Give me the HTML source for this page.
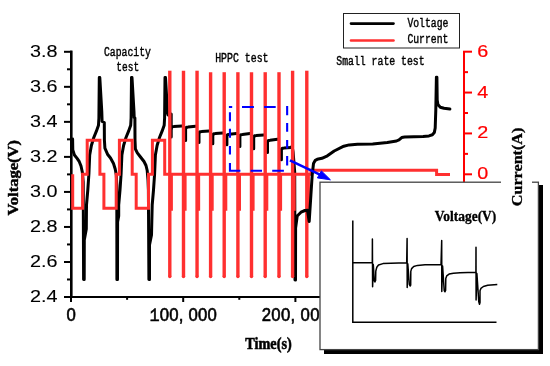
<!DOCTYPE html>
<html><head><meta charset="utf-8"><style>
html,body{margin:0;padding:0;background:#fff;}
body{width:550px;height:366px;overflow:hidden;}
svg{display:block;}
.tick{font-family:"Liberation Sans",Arial,sans-serif;font-size:16.5px;}
.ser{font-family:"Liberation Serif","Times New Roman",serif;font-weight:bold;}
.mono{font-family:"Liberation Mono","Noto Sans CJK SC",monospace;}
</style></head><body>
<svg width="550" height="366" viewBox="0 0 550 366">
<rect width="550" height="366" fill="#fff"/>
<!-- axes -->
<g stroke="#000" stroke-width="2" fill="none"><line x1="71.3" y1="50.6" x2="71.3" y2="298" stroke-width="2.6"/><line x1="64" y1="51.8" x2="72" y2="51.8"/><line x1="67" y1="69.3" x2="72" y2="69.3"/><line x1="64" y1="86.83" x2="72" y2="86.83"/><line x1="67" y1="104.33" x2="72" y2="104.33"/><line x1="64" y1="121.86" x2="72" y2="121.86"/><line x1="67" y1="139.36" x2="72" y2="139.36"/><line x1="64" y1="156.89" x2="72" y2="156.89"/><line x1="67" y1="174.39" x2="72" y2="174.39"/><line x1="64" y1="191.92" x2="72" y2="191.92"/><line x1="67" y1="209.42" x2="72" y2="209.42"/><line x1="64" y1="226.95" x2="72" y2="226.95"/><line x1="67" y1="244.45" x2="72" y2="244.45"/><line x1="64" y1="261.98" x2="72" y2="261.98"/><line x1="67" y1="279.48" x2="72" y2="279.48"/><line x1="64" y1="297.01" x2="72" y2="297.01"/><line x1="70" y1="297" x2="470" y2="297"/><line x1="71" y1="296" x2="71" y2="302"/><line x1="127.1" y1="296" x2="127.1" y2="299.8"/><line x1="183.2" y1="296" x2="183.2" y2="302"/><line x1="239.3" y1="296" x2="239.3" y2="299.8"/><line x1="295.4" y1="296" x2="295.4" y2="302"/><line x1="351.5" y1="296" x2="351.5" y2="299.8"/><line x1="407.6" y1="296" x2="407.6" y2="302"/><line x1="463.7" y1="296" x2="463.7" y2="299.8"/></g>
<g stroke="#ff0000" stroke-width="2" fill="none"><line x1="464" y1="51" x2="464" y2="300"/><line x1="463" y1="174.3" x2="472" y2="174.3"/><line x1="463" y1="153.87" x2="468" y2="153.87"/><line x1="463" y1="133.43" x2="472" y2="133.43"/><line x1="463" y1="113" x2="468" y2="113"/><line x1="463" y1="92.56" x2="472" y2="92.56"/><line x1="463" y1="72.13" x2="468" y2="72.13"/><line x1="463" y1="51.69" x2="472" y2="51.69"/></g>
<!-- tick labels left -->
<g class="tick" fill="#000" stroke="#000" stroke-width="0.1" text-anchor="end">
<text transform="translate(57.4,57.1) scale(1.2,1)">3.8</text>
<text transform="translate(57.4,92.1) scale(1.2,1)">3.6</text>
<text transform="translate(57.4,127.2) scale(1.2,1)">3.4</text>
<text transform="translate(57.4,162.2) scale(1.2,1)">3.2</text>
<text transform="translate(57.4,197.2) scale(1.2,1)">3.0</text>
<text transform="translate(57.4,232.3) scale(1.2,1)">2.8</text>
<text transform="translate(57.4,267.3) scale(1.2,1)">2.6</text>
<text transform="translate(57.4,302.3) scale(1.2,1)">2.4</text>
</g>
<g class="tick" fill="#000" stroke="#000" stroke-width="0.6" text-anchor="middle" style="font-size:18px">
<text transform="translate(71.2,320.5) scale(0.93,1)">0</text>
<text transform="translate(183.2,320.5) scale(0.93,1)" textLength="72.5" lengthAdjust="spacing"><tspan font-family="WenQuanYi Zen Hei">1</tspan>00, 000</text>
<text transform="translate(295.4,320.5) scale(0.93,1)" textLength="72.5" lengthAdjust="spacing">200, 000</text>
</g>
<g class="tick" fill="#ff0000" stroke="#ff0000" stroke-width="0.2" text-anchor="start" style="font-size:15.8px">
<text transform="translate(477.3,178.6) scale(1.25,1)">0</text>
<text transform="translate(477.3,137.8) scale(1.25,1)">2</text>
<text transform="translate(477.3,97.6) scale(1.25,1)">4</text>
<text transform="translate(477.3,56.8) scale(1.25,1)">6</text>
</g>
<!-- curves -->
<g fill="none" stroke="#000" stroke-width="3" stroke-linejoin="round" stroke-linecap="round">
<path d="M72.6,139 L72.8,150 L74.4,155 L77.1,158.4 L79.3,161.7 L81,166 L82.3,172 L83.2,182 L83.6,279.5 L84.2,279.5 L84.3,240 L86.3,229 L86.5,205 L87.8,190 L88.9,174 L89.7,155 L91.4,145.5 L93.8,137.5 L96.3,131.4 L98.5,125.2 L98.9,118 L99.3,77.6 L99.8,77.6 L101.8,112 L102.1,121.5 L104.3,122.5 L104.4,140 L104.9,148.2 L107.5,154.2 L110.5,158 L113.5,163.5 L115.2,169 L116.3,175 L116.8,185 L116.9,279.5 L117.5,279.5 L117.6,222 L118.7,216 L118.7,205 L120,190 L121.1,174 L121.9,155 L123.6,145.5 L126,137.5 L128.5,131.4 L130.7,125.2 L131.1,118 L131.5,77.6 L132,77.6 L134,112 L134.2,117.5 L134.9,118 L135,140 L135.4,149 L137.3,152.8 L140.5,157 L144,161.5 L146,165.5 L147.2,170.5 L148,180 L148.4,190 L148.9,279.5 L149.5,279.5 L149.5,245 L151.5,235 L152.2,205 L153.5,190 L154.6,174 L155.4,155 L157.1,145.5 L159.5,137.5 L162,131.4 L164.2,125.2 L164.6,118 L165,77.6 L165.5,77.6 L167.5,112 L167.5,113 L168.1,115 L170,116"/>
<path d="M171.2,137 L171.2,128.2 Q171.4,126.4 173.7,126.4 L182,126.1"/><path d="M171.2,114 L171.2,128.4"/><path d="M185.6,140.5 L185.6,128.8 Q185.8,127 188.1,127 L195.55,126.3"/><path d="M199,142.4 L199,133.4 Q199.2,131.6 201.5,131.6 L209.1,131"/><path d="M212.8,143.8 L212.8,135.4 Q213,133.6 215.3,133.6 L222.7,133"/><path d="M226.9,144.8 L226.9,136 Q227.1,134.2 229.4,134.2 L236.4,133.4"/><path d="M239.9,146.4 L239.9,136.2 Q240.1,134.4 242.4,134.4 L250,133.4"/><path d="M253.7,148.8 L253.7,137.4 Q253.9,135.6 256.2,135.6 L263.7,135"/><path d="M267.5,152.6 L267.5,142.1 Q267.7,140.3 270,140.3 L277.5,139.2"/><path d="M281.4,159.8 L281.4,149.8 Q281.6,148 283.9,148 L291.1,147.4"/><path d="M291.1,147.2 L292.4,148"/>
<path d="M292.4,148 L293.1,152 L294.7,172 L295,280 L295.5,280 L295.6,228 L297.2,216 L301,212.2 L305,210.5"/>
</g>
<g fill="none" stroke="#ff3030" stroke-width="3" stroke-linejoin="miter" stroke-linecap="butt">
<path d="M72.7,174.3 L72.7,208.3 L82.6,208.3 L82.6,174.3 L87.2,174.3 L87.2,140.2 L99.9,140.2 L99.9,174.3 L103.9,174.3 L103.9,208.3 L116.2,208.3 L116.2,174.3 L119.4,174.3 L119.4,140.2 L132.2,140.2 L132.2,174.3 L136.2,174.3 L136.2,208.3 L148.5,208.3 L148.5,174.3 L152.4,174.3 L152.4,140.2 L164.7,140.2 L164.7,174.3 L311,174.3 L311,170.2 L436.6,170.2 L436.6,174.4 L450,174.4"/>
</g>
<g fill="none" stroke="#ff3030" stroke-width="3.4" stroke-linecap="butt"><line x1="169.8" y1="70.7" x2="169.8" y2="276.6"/><circle cx="169.8" cy="276.6" r="1.7" fill="#ff3030" stroke="none"/><line x1="183.5" y1="70.7" x2="183.5" y2="276.6"/><circle cx="183.5" cy="276.6" r="1.7" fill="#ff3030" stroke="none"/><line x1="197.05" y1="70.7" x2="197.05" y2="276.6"/><circle cx="197.05" cy="276.6" r="1.7" fill="#ff3030" stroke="none"/><line x1="210.6" y1="72.2" x2="210.6" y2="276.6"/><circle cx="210.6" cy="276.6" r="1.7" fill="#ff3030" stroke="none"/><line x1="224.2" y1="72.2" x2="224.2" y2="276.6"/><circle cx="224.2" cy="276.6" r="1.7" fill="#ff3030" stroke="none"/><line x1="237.9" y1="72.2" x2="237.9" y2="276.6"/><circle cx="237.9" cy="276.6" r="1.7" fill="#ff3030" stroke="none"/><line x1="251.5" y1="72.2" x2="251.5" y2="276.6"/><circle cx="251.5" cy="276.6" r="1.7" fill="#ff3030" stroke="none"/><line x1="265.2" y1="72.2" x2="265.2" y2="276.6"/><circle cx="265.2" cy="276.6" r="1.7" fill="#ff3030" stroke="none"/><line x1="279" y1="72.2" x2="279" y2="276.6"/><circle cx="279" cy="276.6" r="1.7" fill="#ff3030" stroke="none"/><line x1="292.6" y1="70.7" x2="292.6" y2="276.6"/><circle cx="292.6" cy="276.6" r="1.7" fill="#ff3030" stroke="none"/><line x1="306.8" y1="70.7" x2="306.8" y2="276.6"/><circle cx="306.8" cy="276.6" r="1.7" fill="#ff3030" stroke="none"/></g>
<g fill="none" stroke="#ff3030" stroke-width="3"><path d="M169.8,209.3 H171.4 V174.3"/><path d="M183.5,209.3 H185.1 V174.3"/><path d="M197.05,209.3 H198.65 V174.3"/><path d="M210.6,209.3 H212.2 V174.3"/><path d="M224.2,209.3 H225.8 V174.3"/><path d="M237.9,209.3 H239.5 V174.3"/><path d="M251.5,209.3 H253.1 V174.3"/><path d="M265.2,209.3 H266.8 V174.3"/><path d="M279,209.3 H280.6 V174.3"/><path d="M292.6,209.3 H294.2 V174.3"/><path d="M306.8,209.3 H308.4 V174.3"/></g>
<path d="M305,210.5 L307.5,210.2 L309.2,221.5 L310.9,195 L312.2,175 L313.5,163.5 L315.3,160.3 L317.2,159.3 L321.9,158.3 L327.4,155.8 L334.2,151 L343.8,146.2 L349.2,144.9 L357.5,144.3 L372.7,143.9 L387.3,142.6 L396.5,141 L399,139.9 L401.7,137.6 L404.7,137.1 L423.1,136.4 L429,135.9 L432.4,134.8 L434.3,132.6 L435.2,128 L435.8,110 L436.4,77.3 L436.9,77.3 L437.2,100 L437.9,104.6 L440.3,107.2 L444,108.3 L449.9,109" fill="none" stroke="#000" stroke-width="3" stroke-linejoin="round" stroke-linecap="round"/>
<!-- blue -->
<g fill="none" stroke="#0000ff" stroke-width="2.1" stroke-linecap="butt"><path d="M228.9,107.05 H232.2 M242,107.05 H253.9 M264.1,107.05 H275.7 M287.15,106.1 V115.2 M287.15,123 V131.7 M287.15,139.9 V148.5 M287.15,156.1 V165.6 M228.9,170.7 H240.4 M250.6,170.7 H262 M272.2,170.7 H283.9 M229.95,112.3 V121.3 M229.95,128.8 V137.8 M229.95,146 V154.6 M229.95,163.1 V171.7"/></g>
<g stroke="#0000ff" fill="#0000ff"><line x1="289.9" y1="160.3" x2="322" y2="175.7" stroke-width="2.5"/>
<polygon points="330.4,179.8 317.4,177.9 321.4,170.9"/></g>
<!-- annotations -->
<g class="mono" fill="#000" stroke="#000" stroke-width="0.42" font-size="12.5">
<text x="104" y="56" textLength="47" lengthAdjust="spacingAndGlyphs">Capacity</text>
<text x="116.3" y="71.3" textLength="22.8" lengthAdjust="spacingAndGlyphs">test</text>
<text x="215.2" y="62.3" textLength="53.3" lengthAdjust="spacingAndGlyphs">HPPC test</text>
<text x="336.3" y="64.7" textLength="88.3" lengthAdjust="spacingAndGlyphs">Small rate test</text>
</g>
<!-- legend -->
<rect x="343.5" y="13.5" width="116" height="34.5" fill="#fff" stroke="#222" stroke-width="1"/>
<line x1="351" y1="23.6" x2="393.5" y2="23.6" stroke="#000" stroke-width="2.6" stroke-linecap="round"/>
<line x1="351" y1="40.5" x2="393.5" y2="40.5" stroke="#ff3030" stroke-width="2.6" stroke-linecap="round"/>
<g class="mono" fill="#000" stroke="#000" stroke-width="0.42" font-size="12.5">
<text x="407.4" y="26.8" textLength="41" lengthAdjust="spacingAndGlyphs">Voltage</text>
<text x="407.4" y="42.8" textLength="41" lengthAdjust="spacingAndGlyphs">Current</text>
</g>
<!-- axis titles -->
<text class="ser" transform="translate(18.4,215.6) rotate(-90) scale(1,0.86)" font-size="16.5" textLength="75.7" lengthAdjust="spacingAndGlyphs" stroke="#000" stroke-width="0.5">Voltage(V)</text>
<text class="ser" x="245.3" y="349.1" font-size="16.8" textLength="46.4" lengthAdjust="spacingAndGlyphs" stroke="#000" stroke-width="0.6">Time(s)</text>
<!-- inset -->
<rect x="324" y="185" width="219" height="169" fill="#000"/>
<rect x="320" y="182.2" width="218.4" height="167.4" fill="#fff" stroke="#444" stroke-width="1.3"/>
<g fill="none" stroke="#000" stroke-width="1.5"><path d="M352.8,220.6 V322.2 H496.5"/></g>
<path d="M352.7,262.7 L372.3,262.5 L372.4,238.9 L372.6,286.8 L373.3,264.5 L374.3,280.8 L374.9,282 L375.6,280.5 L375.8,271 L376.8,267.3 L378.5,265 L383,263.6 L406.7,262.7 L407.1,238.6 L407.2,287.6 L407.8,263.8 L409.3,284.4 L410.1,286 L410.7,285 L410.8,271.4 L411.6,268.6 L413.7,266.5 L417.5,265.4 L425,264.7 L441,264.7 L441.7,240.5 L441.8,291.6 L442.6,266 L444.2,290.5 L445,291.8 L445.6,290.5 L445.8,278.4 L446.7,275.9 L449.1,274.1 L453.5,273.2 L460,272.8 L475.9,272.3 L476,247.3 L476.1,300 L476.9,273.6 L478.8,301.9 L479.5,304.2 L480,302.5 L480,290.8 L480.9,288.4 L483.4,286.5 L487.7,285.3 L497.3,284.4" fill="none" stroke="#000" stroke-width="1.5" stroke-linejoin="round"/>
<text class="ser" x="434.8" y="220.5" font-size="13.6" textLength="61.5" lengthAdjust="spacingAndGlyphs" stroke="#000" stroke-width="0.3">Voltage(V)</text>
<!-- right title with white bg -->
<rect x="501" y="120" width="31" height="92" fill="#fff"/>
<text class="ser" transform="translate(521.5,206.2) rotate(-90)" font-size="14.2" textLength="78.6" lengthAdjust="spacingAndGlyphs" stroke="#000" stroke-width="0.3">Current(A)</text>
</svg>
</body></html>
